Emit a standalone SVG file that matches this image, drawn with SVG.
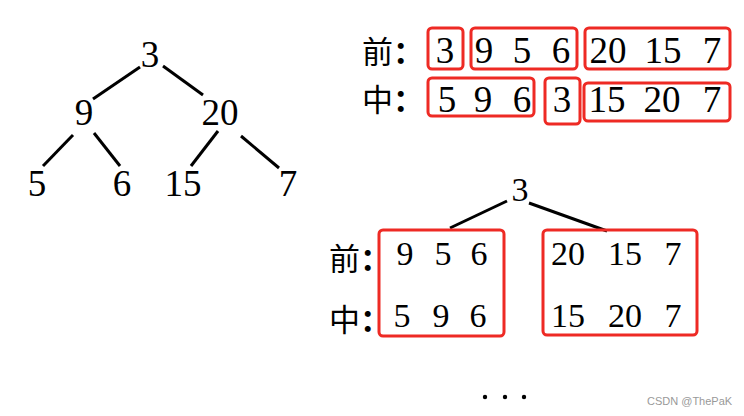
<svg xmlns="http://www.w3.org/2000/svg" width="744" height="416" viewBox="0 0 744 416">
<style>
.n{font-family:"Liberation Serif","DejaVu Serif",serif;font-size:37px;fill:#000;text-anchor:middle}
.s{font-size:34px}
.c{font-family:"Noto Sans CJK SC","Liberation Serif",serif;font-size:31px;fill:#000}
.b{fill:none;stroke:#ee2a24;stroke-width:3}
.e{stroke:#000;stroke-width:3;fill:none}
</style>
<rect width="744" height="416" fill="#fff"/>
<g id="connectors">
<line class="e" x1="140" y1="67" x2="93" y2="99"/>
<line class="e" x1="163" y1="66" x2="203" y2="95"/>
<line class="e" x1="73" y1="135" x2="43" y2="166"/>
<line class="e" x1="94" y1="133" x2="120" y2="166"/>
<line class="e" x1="218" y1="131" x2="191" y2="166"/>
<line class="e" x1="241" y1="136" x2="279" y2="168"/>
<line class="e" x1="507" y1="201" x2="450" y2="228"/>
<line class="e" x1="529" y1="203" x2="607" y2="231"/>
</g>
<g id="n3"><text class="n" x="150" y="67">3</text></g>
<g id="n9"><text class="n" x="84" y="125">9</text></g>
<g id="n20"><text class="n" x="220" y="125">20</text></g>
<g id="n5"><text class="n" x="37" y="196">5</text></g>
<g id="n6"><text class="n" x="122" y="196">6</text></g>
<g id="n15"><text class="n" x="183" y="196">15</text></g>
<g id="n7"><text class="n" x="288" y="196">7</text></g>

<g id="pre-row">
<text class="c" x="362" y="63">前<tspan font-weight="bold">：</tspan></text>
<rect class="b" x="428" y="28" width="35" height="41" rx="4"/>
<text class="n" x="445" y="63">3</text>
<rect class="b" x="471" y="28" width="106" height="41" rx="4"/>
<text class="n" x="484" y="63">9</text><text class="n" x="522" y="63">5</text><text class="n" x="561" y="63">6</text>
<rect class="b" x="585" y="28" width="145" height="41" rx="4"/>
<text class="n" x="608" y="63">20</text><text class="n" x="663" y="63">15</text><text class="n" x="712" y="63">7</text>
</g>
<g id="in-row">
<text class="c" x="362" y="111">中<tspan font-weight="bold">：</tspan></text>
<rect class="b" x="428" y="78" width="106" height="38" rx="4"/>
<text class="n" x="447" y="112">5</text><text class="n" x="483" y="112">9</text><text class="n" x="522" y="112">6</text>
<rect class="b" x="545" y="78" width="35" height="46" rx="4"/>
<text class="n" x="562" y="112">3</text>
<rect class="b" x="584" y="83" width="146" height="38" rx="4"/>
<text class="n" x="607" y="112">15</text><text class="n" x="662" y="112">20</text><text class="n" x="712" y="112">7</text>
</g>

<g id="root2"><text class="n s" x="520" y="201">3</text></g>
<g id="left-sub">
<text class="c" x="329" y="270">前<tspan font-weight="bold">：</tspan></text>
<text class="c" x="329" y="331">中<tspan font-weight="bold">：</tspan></text>
<rect class="b" x="379" y="230" width="125" height="106" rx="4" fill="none"/>
<text class="n s" x="405" y="265">9</text><text class="n s" x="443" y="265">5</text><text class="n s" x="479" y="265">6</text>
<text class="n s" x="402" y="327">5</text><text class="n s" x="441" y="327">9</text><text class="n s" x="478" y="327">6</text>
</g>
<g id="right-sub">
<rect class="b" x="543" y="230" width="154" height="105" rx="4"/>
<text class="n s" x="568" y="265">20</text><text class="n s" x="625" y="265">15</text><text class="n s" x="673" y="265">7</text>
<text class="n s" x="568" y="327">15</text><text class="n s" x="625" y="327">20</text><text class="n s" x="673" y="327">7</text>
</g>
<g id="ellipsis">
<circle cx="485" cy="397" r="2.2" fill="#000"/>
<circle cx="505" cy="397" r="2.2" fill="#000"/>
<circle cx="524" cy="397" r="2.2" fill="#000"/>
</g>
<text x="647" y="405" font-family="Liberation Sans, Arial, sans-serif" font-size="11" fill="#999">CSDN @ThePaK</text>
</svg>
